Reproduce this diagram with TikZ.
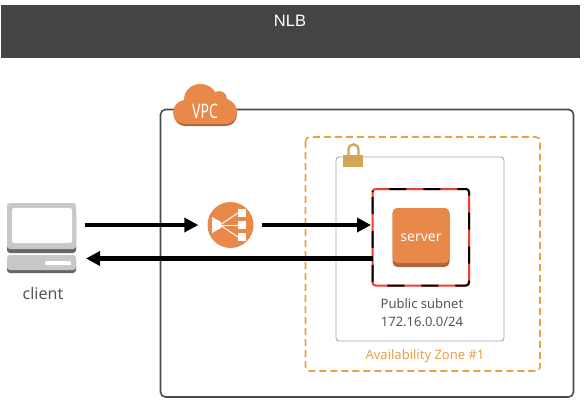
\documentclass[tikz,border=0pt]{standalone}
\usepackage{fontspec}
\setmainfont{Noto Sans}
\newfontfamily\hdr{Liberation Sans}
\usetikzlibrary{arrows.meta}
\definecolor{aws}{HTML}{E8894A}
\definecolor{awsd}{HTML}{A9683A}
\definecolor{az}{HTML}{EE9E45}
\definecolor{hdrc}{HTML}{444444}
\definecolor{frame}{HTML}{4A4A4A}
\definecolor{lock}{HTML}{D2A655}
\definecolor{txt}{HTML}{555555}
\definecolor{devl}{HTML}{C8C8C8}
\definecolor{devd}{HTML}{666666}
\definecolor{redd}{HTML}{F53B30}
\tikzset{
  flow/.style={line width=4.5pt,-{Triangle[length=14pt,width=14pt]}},
  lab/.style={inner sep=0pt,text=txt,font=\fontsize{13}{18}\selectfont,align=center},
}
\begin{document}
\begin{tikzpicture}[x=1pt,y=-1pt]
\useasboundingbox (0,0) rectangle (586,407);
\fill[hdrc] (1,5) rectangle (580,58);
\node[text=white,font=\hdr\fontsize{16.5}{18}\selectfont,inner sep=0pt] (title) at (290,21) {NLB};
% VPC frame
\draw[frame,line width=1.6pt,rounded corners=5pt] (160.5,109.5) rectangle (573.5,397);
% cloud
\fill[awsd] (174,115) .. controls (174,108) and (179,104) .. (185,103)
 .. controls (185,92) and (195,86) .. (202,86) .. controls (210,86) and (213,90) .. (215,94)
 .. controls (221,91) and (227,95) .. (227,101) .. controls (232,103) and (237,108) .. (237,114)
 .. controls (237,121) and (232,126) .. (226,126) -- (185,126) .. controls (179,126) and (174,121) .. (174,115) -- cycle;
\fill[aws] (173,113) .. controls (173,106) and (178,101) .. (184,100)
 .. controls (184,90) and (192,84) .. (200,84) .. controls (208,84) and (213,88) .. (215,92)
 .. controls (221,89) and (227,93) .. (227,99) .. controls (233,101) and (237,106) .. (237,112)
 .. controls (237,119) and (232,124) .. (226,124) -- (185,124) .. controls (178,124) and (173,119) .. (173,113) -- cycle;
\node[text=white,inner sep=0pt,font=\fontsize{20}{22}\bfseries\selectfont,xscale=.7] (vpc) at (205,111) {VPC};
% AZ
\draw[az,line width=1.6pt,dash pattern=on 7pt off 4pt,rounded corners=4pt] (305.5,137) rectangle (540,371);
% subnet
\draw[black!35,line width=.9pt,rounded corners=3pt] (336,157) rectangle (504,341);
% lock
\draw[lock,line width=2.4pt] (348.5,156) -- (348.5,150) .. controls (348.5,142.5) and (358.5,142.5) .. (358.5,150) -- (358.5,156);
\fill[lock] (343,155) rectangle (363,167);
% LB
\node[circle,fill=aws,minimum size=46pt,inner sep=0pt] (lb) at (230.5,225) {};
\foreach \yy in {-12,0,12}{
  \fill[white] (237.5,225+\yy-4) rectangle (246,225+\yy+4);
  \draw[white,line width=1pt] (220,225) -- (238,225+\yy);
}
\fill[white] (212,217) -- (221,222) -- (221,228) -- (212,233) -- cycle;
% server group
\draw[redd,line width=2pt,rounded corners=3pt] (372.5,189) rectangle (469,285.5);
\draw[black,line width=2pt,rounded corners=3pt,dash pattern=on 17pt off 17pt,dash phase=29pt] (372.5,189) rectangle (469,285.5);
\node[minimum width=97pt,minimum height=97pt,inner sep=0pt] (sg) at (420.75,237.25) {};
% server
\fill[awsd,rounded corners=5pt] (392.5,208) rectangle (449.5,267);
\fill[aws,rounded corners=5pt] (392.5,208) rectangle (449.5,263);
\node[text=white,inner sep=0pt,font=\fontsize{14}{14}\bfseries\selectfont] (srv) at (421,238) {server};
\node[lab] (pub) at (422,313) {Public subnet\\172.16.0.0/24};
\node[inner sep=0pt,text=az,font=\fontsize{13}{14}\selectfont] (azl) at (425,356) {Availability Zone \#1};
% client
\fill[devd,rounded corners=3pt] (7,210) rectangle (76,253);
\fill[devl,rounded corners=3pt] (7,203) rectangle (76,249);
\fill[white,rounded corners=2pt] (12,208) rectangle (72,243);
\fill[devd,rounded corners=3pt] (7,258) rectangle (76,273);
\fill[devl,rounded corners=3pt] (7,255) rectangle (76,270);
\fill[white,rounded corners=1pt] (45,261) rectangle (71,265);
\node[lab,font=\fontsize{16}{18}\selectfont] (clt) at (43,293) {client};
% flows
\coordinate (c1) at (85,225);
\coordinate (c2) at (86,258.5);
\coordinate (s1) at (371,225);
\coordinate (s2) at (373,258.5);
\coordinate (l2) at (262,225);
\draw[flow,shorten >=9pt] (c1) -- (lb.west);
\draw[flow] (l2) -- (s1);
\draw[flow] (s2) -- (c2);
\end{tikzpicture}
\end{document}
